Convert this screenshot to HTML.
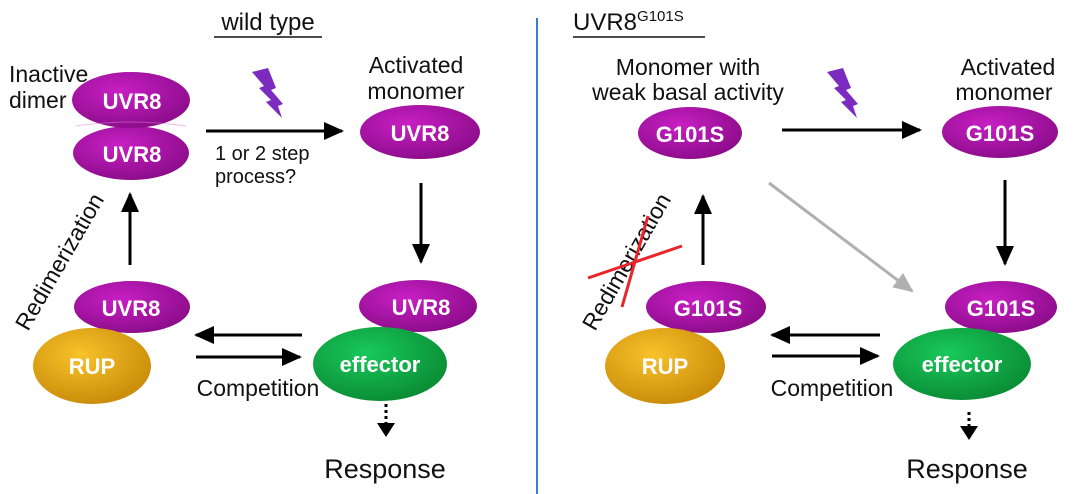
<!DOCTYPE html>
<html><head><meta charset="utf-8"><style>
html,body{margin:0;padding:0;background:#fff;}
svg{display:block;font-family:"Liberation Sans",Arial,sans-serif;}
.lab{font-size:23px;fill:#111;}
.w{font-size:22px;font-weight:bold;fill:#fff;text-anchor:middle;}
</style></head><body>
<svg width="1080" height="494" viewBox="0 0 1080 494" xmlns="http://www.w3.org/2000/svg">
<defs>
<radialGradient id="pur" cx="40%" cy="35%" r="70%"><stop offset="0" stop-color="#c81fc4"/><stop offset="1" stop-color="#8a0c88"/></radialGradient>
<radialGradient id="grn" cx="40%" cy="35%" r="70%"><stop offset="0" stop-color="#18c95a"/><stop offset="1" stop-color="#0a8a34"/></radialGradient>
<radialGradient id="yel" cx="40%" cy="35%" r="70%"><stop offset="0" stop-color="#f8c22a"/><stop offset="1" stop-color="#c88a08"/></radialGradient>
<marker id="big" markerWidth="20" markerHeight="18" refX="18" refY="9" orient="auto" markerUnits="userSpaceOnUse"><path d="M0,0 L20,9 L0,18 z" fill="#000"/></marker>
<marker id="bigg" markerWidth="20" markerHeight="18" refX="18" refY="9" orient="auto" markerUnits="userSpaceOnUse"><path d="M0,0 L20,9 L0,18 z" fill="#b0b0b0"/></marker>
</defs>

<line x1="537" y1="18" x2="537" y2="494" stroke="#3a7fc8" stroke-width="2"/>

<!-- LEFT PANEL -->
<text x="268" y="30" class="lab" text-anchor="middle" style="font-size:24px">wild type</text>
<line x1="214" y1="37" x2="322" y2="37" stroke="#111" stroke-width="1.5"/>
<text x="9" y="82" class="lab">Inactive</text>
<text x="9" y="108" class="lab">dimer</text>
<ellipse cx="131" cy="153" rx="58" ry="27" fill="url(#pur)"/>
<ellipse cx="131" cy="100" rx="59" ry="28" fill="url(#pur)"/>
<path d="M76,126 Q131,118 186,126" stroke="#d880d4" stroke-width="1" fill="none" opacity="0.5"/>
<text x="132" y="109" class="w">UVR8</text>
<text x="132" y="162" class="w">UVR8</text>
<path d="M252,72 L268,68 L276,88 L271,90 L283,104 L278,106 L282,118 L266,102 L271,100 L259,88 L264,86 Z" fill="#7b2bc0"/>
<line x1="206" y1="131" x2="342" y2="131" stroke="#000" stroke-width="3" marker-end="url(#big)"/>
<text x="215" y="160" class="lab" style="font-size:20px">1 or 2 step</text>
<text x="215" y="183" class="lab" style="font-size:20px">process?</text>
<text x="416" y="73" class="lab" text-anchor="middle">Activated</text>
<text x="416" y="99" class="lab" text-anchor="middle">monomer</text>
<ellipse cx="420" cy="132" rx="60" ry="27" fill="url(#pur)"/>
<text x="420" y="141" class="w">UVR8</text>
<line x1="421" y1="183" x2="421" y2="262" stroke="#000" stroke-width="3" marker-end="url(#big)"/>

<ellipse cx="418" cy="306" rx="59" ry="26" fill="url(#pur)"/>
<text x="421" y="315" class="w">UVR8</text>
<ellipse cx="380" cy="364" rx="67" ry="37" fill="url(#grn)"/>
<text x="380" y="372" class="w">effector</text>
<line x1="386" y1="404" x2="386" y2="423" stroke="#000" stroke-width="3" stroke-dasharray="3,3"/>
<path d="M377,423 L395,423 L386,437 Z" fill="#000"/>
<text x="385" y="478" class="lab" text-anchor="middle" style="font-size:27px">Response</text>

<ellipse cx="132" cy="307" rx="58" ry="26" fill="url(#pur)"/>
<text x="131" y="316" class="w">UVR8</text>
<ellipse cx="92" cy="366" rx="59" ry="38" fill="url(#yel)"/>
<text x="92" y="374" class="w">RUP</text>
<line x1="302" y1="335" x2="196" y2="335" stroke="#000" stroke-width="3" marker-end="url(#big)"/>
<line x1="196" y1="357" x2="300" y2="357" stroke="#000" stroke-width="3" marker-end="url(#big)"/>
<text x="258" y="396" class="lab" text-anchor="middle">Competition</text>
<line x1="130" y1="265" x2="130" y2="194" stroke="#000" stroke-width="3" marker-end="url(#big)"/>
<text x="0" y="0" class="lab" transform="translate(28,332) rotate(-60)">Redimerization</text>

<!-- RIGHT PANEL -->
<text x="573" y="30" class="lab" style="font-size:24px">UVR8<tspan font-size="15" dy="-9">G101S</tspan></text>
<line x1="573" y1="37" x2="705" y2="37" stroke="#111" stroke-width="1.5"/>
<text x="688" y="75" class="lab" text-anchor="middle">Monomer with</text>
<text x="688" y="100" class="lab" text-anchor="middle">weak basal activity</text>
<ellipse cx="690" cy="133" rx="52" ry="26" fill="url(#pur)"/>
<text x="690" y="142" class="w">G101S</text>
<path d="M827,72 L843,68 L851,88 L846,90 L858,104 L853,106 L857,118 L841,102 L846,100 L834,88 L839,86 Z" fill="#7b2bc0"/>
<line x1="782" y1="130" x2="920" y2="130" stroke="#000" stroke-width="3" marker-end="url(#big)"/>
<text x="1008" y="75" class="lab" text-anchor="middle">Activated</text>
<text x="1004" y="100" class="lab" text-anchor="middle">monomer</text>
<ellipse cx="1000" cy="132" rx="58" ry="26" fill="url(#pur)"/>
<text x="1000" y="141" class="w">G101S</text>
<line x1="1005" y1="180" x2="1005" y2="264" stroke="#000" stroke-width="3" marker-end="url(#big)"/>
<line x1="769" y1="183" x2="912" y2="291" stroke="#b0b0b0" stroke-width="3" marker-end="url(#bigg)"/>

<ellipse cx="1001" cy="307" rx="56" ry="26" fill="url(#pur)"/>
<text x="1001" y="316" class="w">G101S</text>
<ellipse cx="962" cy="364" rx="69" ry="36" fill="url(#grn)"/>
<text x="962" y="372" class="w">effector</text>
<line x1="969" y1="412" x2="969" y2="426" stroke="#000" stroke-width="3" stroke-dasharray="3,3"/>
<path d="M960,426 L978,426 L969,440 Z" fill="#000"/>
<text x="967" y="478" class="lab" text-anchor="middle" style="font-size:27px">Response</text>

<ellipse cx="706" cy="307" rx="60" ry="26" fill="url(#pur)"/>
<text x="708" y="316" class="w">G101S</text>
<ellipse cx="665" cy="366" rx="60" ry="38" fill="url(#yel)"/>
<text x="665" y="374" class="w">RUP</text>
<line x1="880" y1="335" x2="772" y2="335" stroke="#000" stroke-width="3" marker-end="url(#big)"/>
<line x1="772" y1="356" x2="878" y2="356" stroke="#000" stroke-width="3" marker-end="url(#big)"/>
<text x="832" y="396" class="lab" text-anchor="middle">Competition</text>
<line x1="703" y1="265" x2="703" y2="196" stroke="#000" stroke-width="3" marker-end="url(#big)"/>
<text x="0" y="0" class="lab" transform="translate(595,332) rotate(-60)">Redimerization</text>
<line x1="588" y1="278" x2="682" y2="246" stroke="#e8252a" stroke-width="3"/>
<line x1="648" y1="216" x2="622" y2="307" stroke="#e8252a" stroke-width="3"/>
</svg>
</body></html>
